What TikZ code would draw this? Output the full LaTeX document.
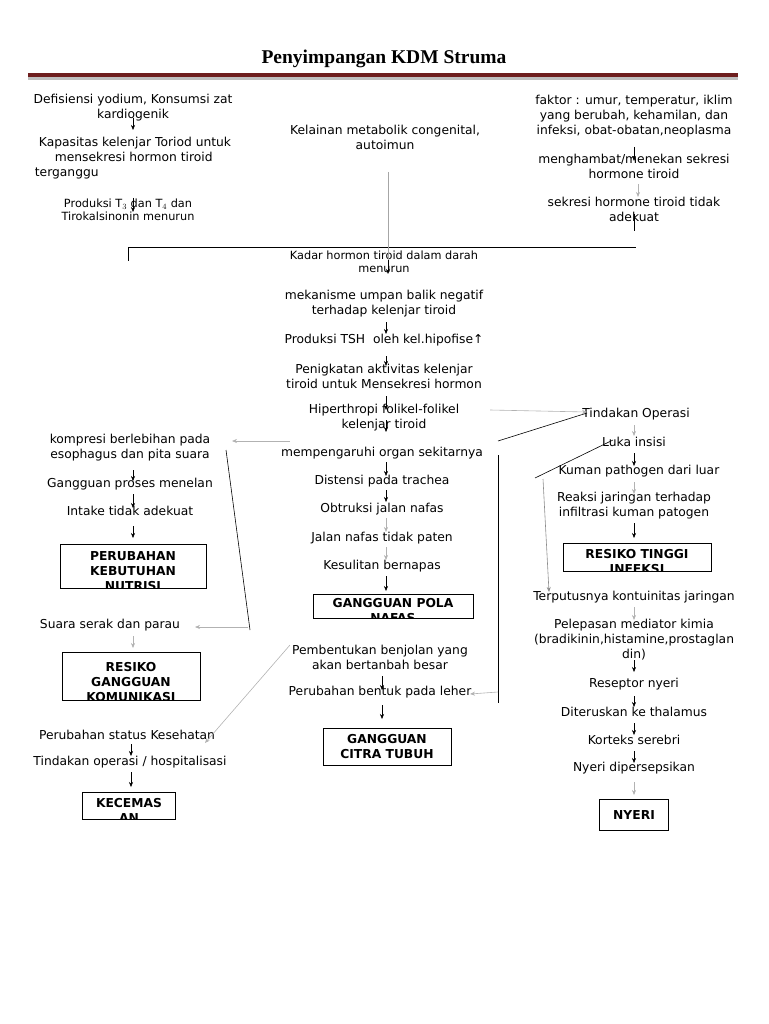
\documentclass[tikz,border=0pt]{standalone}
\usepackage{fontspec}
\setmainfont{DejaVu Sans}
\newfontfamily\ttl{Liberation Serif}
\usetikzlibrary{arrows.meta}
\definecolor{rulered}{RGB}{110,30,30}
\begin{document}
\begin{tikzpicture}[x=1pt,y=-1pt,
  t/.style={align=center,inner sep=0.5pt,font=\fontsize{12.3}{15}\selectfont},
  ts/.style={align=center,inner sep=0.5pt,font=\fontsize{11.3}{13.5}\selectfont},
  bf/.style={font=\bfseries\fontsize{12.3}{15}\selectfont},
  ar/.style={-{Stealth[length=5pt,width=4pt]},line width=0.5pt},
  gar/.style={-{Stealth[length=5pt,width=4pt]},line width=0.6pt,draw=black!30},
  ln/.style={line width=0.6pt},
  gln/.style={line width=0.5pt,draw=black!35},
  box/.style={draw,line width=0.7pt,inner sep=0pt}]
\useasboundingbox (0,0) rectangle (768,1024);
\node[font=\ttl\bfseries\fontsize{19.5}{22}\selectfont] (title) at (384,59) {Penyimpangan KDM Struma};
\fill[black!25] (28,77) rectangle (738,80);
\fill[rulered] (28,73) rectangle (738,77);
% left top
\node[t] (def) at (133,108) {Defisiensi yodium, Konsumsi zat\\kardiogenik};
\node[t,align=left] (kap) at (133,158) {\hspace*{4pt}Kapasitas kelenjar Toriod untuk\\\hspace*{20pt}mensekresi hormon tiroid\\terganggu};
\node[ts] (prod) at (128,210) {Produksi T$_3$ dan T$_4$ dan\\Tirokalsinonin menurun};
\draw[ar] (133,118) -- (133,130);
\draw[ar] (133,198) -- (133,212);
% center top
\node[t] (kel) at (385,137) {Kelainan metabolik congenital,\\autoimun};
% right top
\node[t] (fak) at (634,116) {faktor : umur, temperatur, iklim\\yang berubah, kehamilan, dan\\infeksi, obat-obatan,neoplasma};
\node[t] (meng) at (634,166) {menghambat/menekan sekresi\\hormone tiroid};
\node[t] (sek) at (634,209) {sekresi hormone tiroid tidak\\adekuat};
\draw[ar] (634,147) -- (634,161);
\draw[gar] (638,184) -- (638,197);
\draw[ln] (634,214) -- (634,231);
\draw[ln] (128,247) -- (636,247);
\draw[ln] (128,247) -- (128,261);
% center chain
\node[ts] (kad) at (384,262) {Kadar hormon tiroid dalam darah\\menurun};
\draw[gln] (388,172) -- (388,262);
\node[t] (mek) at (384,304) {mekanisme umpan balik negatif\\terhadap kelenjar tiroid};
\node[t] (tsh) at (384,340) {Produksi TSH\ \ oleh kel.hipofise\textuparrow};
\node[t] (pen) at (384,376) {Penigkatan aktivitas kelenjar\\tiroid untuk Mensekresi hormon};
\node[t] (hip) at (384,418) {Hiperthropi folikel-folikel\\kelenjar tiroid};
\node[t] (mem) at (382,453) {mempengaruhi organ sekitarnya};
\node[t] (dis) at (382,481) {Distensi pada trachea};
\node[t] (obt) at (382,509) {Obtruksi jalan nafas};
\node[t] (jal) at (382,538) {Jalan nafas tidak paten};
\node[t] (kes) at (382,566) {Kesulitan bernapas};
\node[box,minimum width=160pt,minimum height=24pt,path picture={\node[anchor=north,align=center,bf] at ([yshift=-4pt]path picture bounding box.north) {GANGGUAN POLA\\NAFAS};}] (bpola) at (393,606) {};
\draw[ar] (388,260) -- (388,274);
\draw[ar] (386,322) -- (386,334);
\draw[ar] (386,356) -- (386,366);
\draw[ar] (386,396) -- (386,410);
\draw[ar] (386,420) -- (386,432);
\draw[ar] (386,462) -- (386,476);
\draw[ar] (386,490) -- (386,502);
\draw[gar] (386,518) -- (386,532);
\draw[gar] (386,547) -- (386,560);
\draw[ar] (386,576) -- (386,591);
\node[t] (pemb) at (380,657) {Pembentukan benjolan yang\\akan bertanbah besar};
\node[t] (perub) at (380,692) {Perubahan bentuk pada leher};
\node[box,minimum width=128pt,minimum height=37pt,align=center,bf] (bcitra) at (387,747) {GANGGUAN\\CITRA TUBUH};
\draw[ar] (382,676) -- (382,690);
\draw[ar] (382,705) -- (382,719);
% left chain
\node[t] (komp) at (130,448) {kompresi berlebihan pada\\esophagus dan pita suara};
\node[t] (ggn) at (130,484) {Gangguan proses menelan};
\node[t] (int) at (130,511) {Intake tidak adekuat};
\node[box,minimum width=146pt,minimum height=44pt,path picture={\node[anchor=north,align=center,bf] at ([yshift=-5pt]path picture bounding box.north) {PERUBAHAN\\KEBUTUHAN\\NUTRISI};}] (bnut) at (133,566) {};
\draw[ar] (133,470) -- (133,481);
\draw[ar] (133,494) -- (133,508);
\draw[ar] (133,526) -- (133,538);
\node[t] (suara) at (110,625) {Suara serak dan parau};
\node[box,minimum width=138pt,minimum height=48pt,path picture={\node[anchor=north,align=center,bf] at ([yshift=-6pt]path picture bounding box.north) {RESIKO\\GANGGUAN\\KOMUNIKASI};}] (bkom) at (131,676) {};
\draw[gar] (133,636) -- (133,648);
\node[t] (pstat) at (127,735) {Perubahan status Kesehatan};
\node[t] (tind) at (130,762) {Tindakan operasi / hospitalisasi};
\node[box,minimum width=93pt,minimum height=27pt,path picture={\node[anchor=north,align=center,bf] at ([yshift=-4pt]path picture bounding box.north) {KECEMAS\\AN};}] (bcem) at (129,806) {};
\draw[ar] (131,744) -- (131,756);
\draw[ar] (131,772) -- (131,787);
% right chain
\node[t] (top) at (636,414) {Tindakan Operasi};
\node[t] (luka) at (634,442) {Luka insisi};
\node[t] (kum) at (639,471) {Kuman pathogen dari luar};
\node[t] (rea) at (634,506) {Reaksi jaringan terhadap\\infiltrasi kuman patogen};
\node[box,minimum width=148pt,minimum height=28pt,path picture={\node[anchor=north,align=center,bf] at ([yshift=-4pt]path picture bounding box.north) {RESIKO TINGGI\\INFEKSI};}] (binf) at (637,557) {};
\draw[gar] (634,425) -- (634,436);
\draw[ar] (634,453) -- (634,466);
\draw[gar] (634,482) -- (634,494);
\draw[ar] (634,523) -- (634,538);
\node[t] (terp) at (634,597) {Terputusnya kontuinitas jaringan};
\node[t] (pel) at (634,640) {Pelepasan mediator kimia\\(bradikinin,histamine,prostaglan\\din)};
\node[t] (res) at (634,684) {Reseptor nyeri};
\node[t] (dit) at (634,712) {Diteruskan ke thalamus};
\node[t] (kor) at (634,740) {Korteks serebri};
\node[t] (nyd) at (634,768) {Nyeri dipersepsikan};
\node[box,minimum width=69pt,minimum height=31pt,bf] (bny) at (634,815) {NYERI};
\draw[gar] (634,607) -- (634,620);
\draw[ar] (634,660) -- (634,672);
\draw[ar] (634,696) -- (634,707);
\draw[ar] (634,723) -- (634,735);
\draw[ar] (634,751) -- (634,763);
\draw[gar] (634,782) -- (634,795);
% cross connectors
\draw[gar] (490,410) -- (587,412);
\draw[ln] (498,441) -- (587,413);
\draw[ln] (535,478) -- (613,440);
\draw[gar,draw=black!45] (543,479) -- (549,592);
\draw[gar] (290,441) -- (232,441);
\draw[ln] (226,450) -- (250,630);
\draw[gar] (248,627) -- (195,627);
\draw[ln] (498,455) -- (498,703);
\draw[gar] (498,692) -- (470,694);
\draw[gar] (290,645) -- (205,743);
\end{tikzpicture}
\end{document}
